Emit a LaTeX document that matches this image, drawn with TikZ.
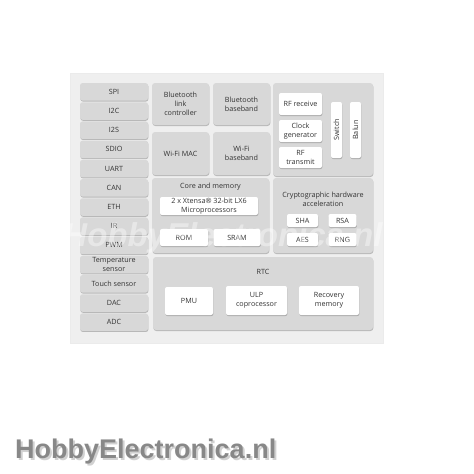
\documentclass[tikz,border=0pt]{standalone}
\usepackage{fontspec}
\setmainfont{Open Sans}
\newfontfamily\markfont{Liberation Sans}
\usetikzlibrary{shadows}
\definecolor{panelgray}{HTML}{EFEFEF}
\definecolor{blockgray}{HTML}{D8D8D8}
\definecolor{textgray}{HTML}{333333}
\definecolor{markgray}{HTML}{888888}
\begin{document}
\begin{tikzpicture}[x=1pt, y=-1pt,
every node/.style={font=\fontsize{7.2}{9}\selectfont, text=textgray, align=center, inner sep=0pt},
lift/.style={drop shadow={shadow xshift=0.4pt, shadow yshift=-1pt, opacity=0.4, fill=black!60}},
panel/.style={fill=panelgray, draw=black!8, minimum width=313pt, minimum height=270pt},
cell/.style={fill=blockgray, rounded corners=2.5pt, minimum width=68pt, minimum height=17.5pt, lift},
block/.style={fill=blockgray, rounded corners=3pt, lift},
box/.style={fill=white, rounded corners=2pt, lift},
logo/.style={font=\markfont\bfseries\fontsize{27}{27}\selectfont, anchor=base west}]
\useasboundingbox (0,0) rectangle (474,474);
\node[panel] (chip) at (226.5,208) {};

\foreach \t [count=\i] in {SPI, I2C, I2S, SDIO, UART, CAN, ETH, IR, PWM,
  {Temperature\\sensor}, Touch sensor, DAC, ADC}
  \node[cell] (c\i) at (114,72.6+\i*19.2) {\t};

\node[block, minimum width=57pt, minimum height=42pt] (btlink) at (180.5,104) {Bluetooth\\link\\controller};
\node[block, minimum width=57pt, minimum height=42pt] (btbase) at (241.5,104) {Bluetooth\\baseband};
\node[block, minimum width=57pt, minimum height=43pt] (wifimac) at (180.5,153.5) {Wi-Fi MAC};
\node[block, minimum width=57pt, minimum height=43pt] (wifibase) at (241.5,153.5) {Wi-Fi\\baseband};
\node[block, minimum width=100pt, minimum height=93pt] (rf) at (323,129.5) {};
\node[block, minimum width=117pt, minimum height=75pt] (core) at (210.5,215.5) {};
\node[block, minimum width=100pt, minimum height=75pt] (crypto) at (323,215.5) {};
\node[block, minimum width=220pt, minimum height=73pt] (rtc) at (263,293.5) {};

\node[box, minimum width=43pt, minimum height=22pt] (rfrx) at (300.5,104) {RF receive};
\node[box, minimum width=43pt, minimum height=22pt] (clk) at (300.5,131) {Clock\\generator};
\node[box, minimum width=43pt, minimum height=21pt] (rftx) at (300.5,157.5) {RF\\transmit};
\node[box, minimum width=11pt, minimum height=56pt] (switch) at (336.5,130) {\rotatebox{90}{Switch}};
\node[box, minimum width=11pt, minimum height=56pt] (balun) at (355.5,130) {\rotatebox{90}{Balun}};

\node (coretitle) at (210.5,187) {Core and memory};
\node[box, minimum width=98pt, minimum height=18pt] (xtensa) at (209,206) {2 x Xtensa® 32-bit LX6\\Microprocessors};
\node[box, minimum width=48pt, minimum height=17pt] (rom) at (184,237.5) {ROM};
\node[box, minimum width=47pt, minimum height=17pt] (sram) at (237,237.5) {SRAM};

\node (cryptotitle) at (323,199) {Cryptographic hardware\\acceleration};
\node[box, minimum width=31pt, minimum height=13pt] (sha) at (302.5,220.5) {SHA};
\node[box, minimum width=28pt, minimum height=13pt] (rsa) at (342.5,220.5) {RSA};
\node[box, minimum width=31pt, minimum height=13pt] (aes) at (302.5,239.5) {AES};
\node[box, minimum width=28pt, minimum height=13pt] (rng) at (342.5,239.5) {RNG};

\node (rtctitle) at (263,272) {RTC};
\node[box, minimum width=48pt, minimum height=28pt] (pmu) at (189,301) {PMU};
\node[box, minimum width=61pt, minimum height=29pt] (ulp) at (256.5,300.5) {ULP\\coprocessor};
\node[box, minimum width=60pt, minimum height=29pt] (recov) at (329,300.5) {Recovery\\memory};

\node[font=\markfont\bfseries\itshape\fontsize{33}{33}\selectfont, text=white, opacity=0.4] (faintmark) at (223,238) {HobbyElectronica.nl};
\node[logo, text=black!30, opacity=0.6] (logoshade) at (17,460) {HobbyElectronica.nl};
\node[logo, text=markgray] (logotext) at (15,458) {HobbyElectronica.nl};
\end{tikzpicture}
\end{document}
